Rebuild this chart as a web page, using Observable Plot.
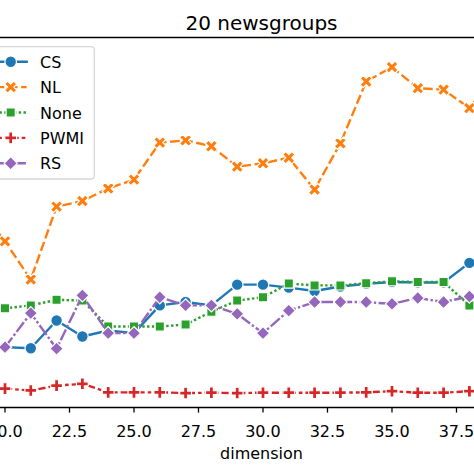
<!DOCTYPE html>
<html><head><meta charset="utf-8">
<script src="https://cdn.jsdelivr.net/npm/d3@7"></script>
<script src="https://cdn.jsdelivr.net/npm/@observablehq/plot@0.6"></script>
<style>
html,body{margin:0;padding:0;background:#fff;overflow:hidden}
#chart{position:relative;width:474px;height:474px;overflow:hidden}
</style></head><body><div id="chart"></div>
<script>
// ---- data ----
const dimension = [19,20,21,22,23,24,25,26,27,28,29,30,31,32,33,34,35,36,37,38,39];
const CS   = [null,0.163,0.160,0.235,0.192,0.208,0.201,0.276,0.285,0.276,0.332,0.332,0.324,0.315,0.327,0.334,0.339,0.338,0.338,0.391,null];
const NL   = [0.54,0.449,0.346,0.543,0.558,0.592,0.616,0.716,0.722,0.706,0.651,0.660,0.675,0.589,0.714,0.881,0.920,0.863,0.859,0.809,0.90];
const None = [null,0.268,0.276,0.291,0.289,0.219,0.219,0.219,0.224,0.259,0.289,0.298,0.335,0.330,0.330,0.336,0.341,0.339,0.339,0.276,null];
const PWMI = [null,0.051,0.046,0.059,0.064,0.041,0.041,0.041,0.039,0.040,0.039,0.040,0.040,0.040,0.040,0.041,0.044,0.040,0.040,0.044,null];
const RS   = [null,0.163,0.255,0.159,0.303,0.201,0.201,0.298,0.276,0.276,0.253,0.201,0.262,0.285,0.285,0.285,0.280,0.296,0.285,0.300,null];
const methods = ["CS","NL","None","PWMI","RS"];
const seriesValues = [CS, NL, None, PWMI, RS];
const xTicks = [20,22.5,25,27.5,30,32.5,35,37.5];
const title = "20 newsgroups";
const xLabel = "dimension";

// ---- styles ----
const colors = ["#1f77b4","#ff7f0e","#2ca02c","#d62728","#9467bd"];
const dashes = [null,"9.6,3.6","2.4,2.4","7.2,3,3.6,3","12,2.4,2.4,2.4"];
function mk(fn){return {draw(c,size){const r=Math.sqrt(size/Math.PI); fn(c,r);}};}
function poly(c,pts){pts.forEach(([x,y],i)=>i?c.lineTo(x,y):c.moveTo(x,y)); c.closePath();}
const symCircle = mk((c,r)=>{c.moveTo(r,0); c.arc(0,0,r,0,2*Math.PI);});
const symX = mk((c,r)=>{const s=r/2; poly(c,[[-1,-2],[0,-1],[1,-2],[2,-1],[1,0],[2,1],[1,2],[0,1],[-1,2],[-2,1],[-1,0],[-2,-1]].map(([x,y])=>[x*s,y*s]));});
const symSquare = mk((c,r)=>{const h=r/Math.SQRT2; poly(c,[[-h,-h],[h,-h],[h,h],[-h,h]]);});
const symPlus = mk((c,r)=>{const s=r/3; poly(c,[[-1,-3],[1,-3],[1,-1],[3,-1],[3,1],[1,1],[1,3],[-1,3],[-1,1],[-3,1],[-3,-1],[-1,-1]].map(([x,y])=>[x*s,y*s]));});
const symDiamond = mk((c,r)=>{poly(c,[[0,-r],[r,0],[0,r],[-r,0]]);});
const symbols = [symCircle, symX, symSquare, symPlus, symDiamond];
const radii = [5.8, 6.1, 6.5, 5.9, 6.6];

const rows = [];
methods.forEach((m,i)=>dimension.forEach((d,j)=>rows.push({method:m, dimension:d, value:seriesValues[i][j]})));

const marks = [
  Plot.ruleY([0], {stroke:"black", strokeWidth:1.28}),
  Plot.ruleY([1], {stroke:"black", strokeWidth:1.28}),
];
methods.forEach((m,i)=>{
  const data = rows.filter(r=>r.method===m);
  marks.push(Plot.line(data,{x:"dimension",y:"value",stroke:colors[i],strokeWidth:2.4,
    strokeDasharray:dashes[i]||undefined, strokeLinecap: dashes[i]?"butt":"square", strokeLinejoin:"round", clip:true}));
  marks.push(Plot.dot(data.filter(r=>r.value!=null),{x:"dimension",y:"value",symbol:symbols[i],r:radii[i],
    fill:colors[i],stroke:"white",strokeWidth:1.2,clip:true}));
});
marks.push(Plot.axisX({ticks:xTicks, tickFormat:d=>d.toFixed(1), tickSize:5.6, tickPadding:12.5, fontSize:16, label:null, strokeWidth:1.28}));
marks.push(Plot.text([title],{frameAnchor:"top", dx:24, dy:-14, lineAnchor:"middle", fontSize:20, fill:"black"}));
marks.push(Plot.text([xLabel],{frameAnchor:"bottom", dx:24, dy:46.2, lineAnchor:"middle", fontSize:16, fill:"black"}));

const plot = Plot.plot({
  width:474, height:474,
  marginLeft:0, marginRight:0, marginTop:37, marginBottom:67,
  x:{domain:[19.826,38.198]},
  y:{domain:[0,1], axis:null},
  style:{fontFamily:"'DejaVu Sans', sans-serif", fontSize:"16px", color:"black", background:"white"},
  marks
});
document.getElementById("chart").appendChild(plot);

// ---- legend (inside axes, top-left) ----
const svg = d3.select(plot);
const g = svg.append("g").attr("font-family","'DejaVu Sans', sans-serif").attr("font-size",16).attr("text-anchor","start");
g.append("rect").attr("x",-13).attr("y",46.7).attr("width",107.3).attr("height",132.3).attr("rx",3.2)
  .attr("fill","white").attr("fill-opacity",0.8).attr("stroke","#cccccc").attr("stroke-opacity",0.8).attr("stroke-width",1.28);
methods.forEach((m,i)=>{
  const y = 61.7 + i*25.4;
  g.append("line").attr("x1",-5.3).attr("x2",26.7).attr("y1",y).attr("y2",y)
    .attr("stroke",colors[i]).attr("stroke-width",2.4).attr("stroke-dasharray",dashes[i]||null)
    .attr("stroke-linecap",dashes[i]?"butt":"square");
  g.append("path").attr("transform",`translate(10.7,${y})`)
    .attr("d", d3.symbol().type(symbols[i]).size(radii[i]*radii[i]*Math.PI)())
    .attr("fill",colors[i]).attr("stroke","white").attr("stroke-width",1.2);
  g.append("text").attr("x",40).attr("y",y+6).attr("text-anchor","start").attr("fill","black").text(m);
});
</script></body></html>
